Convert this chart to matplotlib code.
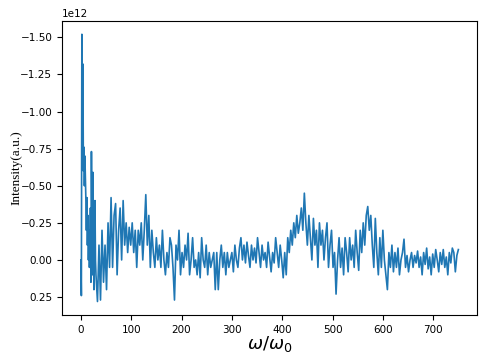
import numpy as np
import matplotlib
matplotlib.use('Agg')
import matplotlib.pyplot as plt

# intensity values in units of 1e12
x_start = list(range(0, 30))
y_start = [0.0, 0.24, -1.52, -0.9, -1.32, -0.6, -0.76, -0.5, -0.7, -0.55,
           -0.4, -0.2, -0.42, -0.1, -0.3, 0.0, -0.2, 0.05, -0.1, -0.35,
           0.15, -0.73, -0.2, 0.1, -0.59, -0.1, 0.2, -0.35, -0.4, 0.0]

y_rest = [
    0.1, 0.28, -0.1, 0.27, -0.2, 0.15, -0.1, 0.2, -0.25, 0.05,
    -0.42, 0.05, -0.3, -0.38, 0.1, -0.2, -0.35, 0.0, -0.4, -0.1,
    -0.25, -0.05, -0.22, -0.1, -0.25, -0.05, -0.2, 0.05, -0.2, -0.1,
    -0.25, 0.0, -0.2, -0.44, -0.1, -0.3, 0.05, -0.2, -0.05, 0.05,
    -0.15, 0.0, -0.1, 0.05, -0.2, 0.0, 0.1, -0.05, 0.05, -0.15,
    -0.1, 0.05, 0.27, -0.1, 0.0, -0.2, 0.1, -0.05, 0.05, -0.1,
    0.0, -0.18, 0.1, 0.0, -0.15, 0.05, 0.0, 0.1, -0.05, 0.12,
    -0.15, 0.0, 0.05, -0.1, 0.1, -0.05, 0.05, 0.0, -0.05, 0.2,
    -0.05, 0.2, 0.0, -0.1, 0.05, -0.05, 0.1, -0.05, 0.05, 0.0,
    -0.05, 0.08, -0.1, 0.0, 0.05, -0.08, -0.15, 0.0, -0.1, 0.02,
    -0.12, -0.03, 0.05, -0.1, 0.0, -0.08, 0.02, -0.15, -0.05, 0.05,
    -0.1, 0.0, -0.05, 0.05, -0.12, -0.02, 0.08, -0.05, 0.02, -0.15,
    -0.05, 0.05, -0.1, 0.0, 0.12, -0.05, 0.1, -0.15, -0.05, -0.2,
    -0.1, -0.25, -0.15, -0.3, -0.18, -0.25, -0.35, -0.2, -0.45, -0.25,
    -0.1, -0.3, -0.15, 0.0, -0.28, -0.1, -0.2, 0.05, -0.25, -0.1,
    -0.2, 0.0, -0.15, -0.25, 0.05, -0.1, -0.2, 0.05, -0.05, 0.23,
    0.0, -0.15, 0.05, -0.08, 0.1, -0.15, -0.05, 0.08, -0.15, 0.0,
    -0.1, 0.05, -0.2, -0.05, 0.07, -0.2, -0.05, -0.25, -0.1, -0.3,
    -0.36, -0.2, -0.3, -0.1, 0.05, -0.28, -0.05, 0.1, -0.15, 0.05,
    -0.2, 0.0, 0.1, 0.2, -0.05, 0.05, -0.1, 0.08, -0.05, 0.05,
    -0.08, 0.1, 0.0, -0.05, -0.14, 0.05, -0.03, 0.08, 0.0, -0.05,
    0.05, -0.03, 0.02, -0.06, 0.05, -0.02, 0.1, -0.05, 0.03, -0.08,
    0.06, -0.02, 0.1, -0.04, 0.05, -0.07, 0.0, 0.08, -0.05, 0.03,
    -0.07, 0.05, -0.02, 0.1, -0.05, 0.02, -0.08, -0.05, 0.08, -0.03, -0.07]

x_rest = np.linspace(30, 750, len(y_rest))
x = np.concatenate([x_start, x_rest])
y = np.concatenate([y_start, y_rest]) * 1e12

fig = plt.figure(figsize=(4.92, 3.55), dpi=100)
ax = fig.add_axes([0.126, 0.113, 0.844, 0.828])
ax.plot(x, y, color='#1f77b4', lw=1.2)
ax.invert_yaxis()
ax.set_yticks(np.arange(-1.5, 0.26, 0.25) * 1e12)
ax.tick_params(labelsize=7.5)
ax.yaxis.get_offset_text().set_fontsize(7.5)
ax.set_xlabel(r'$\omega/\omega_0$', fontsize=13)
ax.xaxis.set_label_coords(0.5, -0.065)
ax.set_ylabel('Intensity(a.u.)', fontsize=9.5, family='Liberation Serif')
ax.yaxis.set_label_coords(-0.095, 0.5)

fig.savefig('out.png', dpi=100)
